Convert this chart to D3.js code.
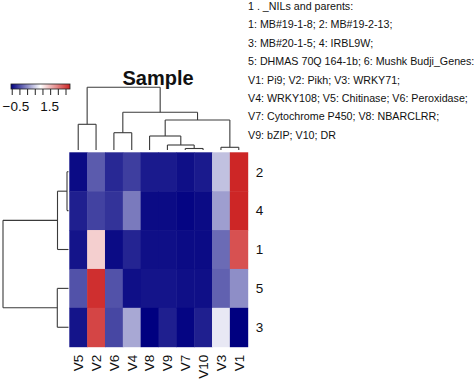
<!DOCTYPE html>
<html><head><meta charset="utf-8">
<script src="https://cdn.jsdelivr.net/npm/d3@7"></script>
<style>body{margin:0;background:#fff}svg{display:block}text{font-family:"Liberation Sans",Arial,sans-serif;fill:#111}</style>
</head><body><svg id="c" width="474" height="379"></svg>
<script>
// ---- data ----
const colLabels = ["V5","V2","V6","V4","V8","V9","V7","V10","V3","V1"];
const rowLabels = ["2","4","1","5","3"];
const values = [
  [-1.02,-0.42,-0.80,-0.64,-0.91,-0.91,-0.99,-0.91, 0.34, 2.70],
  [-0.87,-0.61,-0.72,-0.19,-1.02,-1.02,-1.06,-1.02, 0.08, 2.70],
  [-0.95, 1.22,-1.02,-0.83,-0.99,-0.99,-1.02,-1.02,-0.30, 2.32],
  [-0.49, 2.62,-0.49,-0.99,-0.95,-0.95,-0.99,-0.99,-0.38,-0.04],
  [-0.95, 2.43,-0.57, 0.15,-1.10,-0.87,-1.06,-0.87, 0.63,-1.10]
];
// hclust-style merges: negative = leaf index (1-based, display order), positive = earlier merge
const colMerge = [[-7,-8],[-9,-10],[-6,1],[-5,3],[-3,-4],[-1,-2],[4,2],[5,7],[6,8]];
const colHeights = [1.5,2.7,5,14,17.3,25.7,30,37.7,62.7];
const rowMerge = [[-1,-2],[-3,1],[-4,-5],[2,3]];
const rowHeights = [1.5,11,11.2,65.5];
const keyTicks = [-1,-0.5,0,0.5,1,1.5,2,2.5];
const keyLabels = [-0.5,1.5];
const title = "Sample";
const notes = [
  "1 . _NILs and parents:",
  "1: MB#19-1-8; 2: MB#19-2-13;",
  "3: MB#20-1-5; 4: IRBL9W;",
  "5: DHMAS 70Q 164-1b; 6: Mushk Budji_Genes:",
  "V1: Pi9; V2: Pikh; V3: WRKY71;",
  "V4: WRKY108; V5: Chitinase; V6: Peroxidase;",
  "V7: Cytochrome P450; V8: NBARCLRR;",
  "V9: bZIP; V10; DR"
];

// ---- layout ----
const svg = d3.select("#c");
const hm = {x0:69.3, x1:247.7, y0:152.3, y1:346.7};
const x = d3.scaleBand().domain(colLabels).range([hm.x0, hm.x1]);
const y = d3.scaleBand().domain(rowLabels).range([hm.y0, hm.y1]);
const vmin = -1.1, vmax = 2.7, vmid = (vmin+vmax)/2;
const color = d3.scaleLinear().domain([vmin, vmid, vmax]).range(["#000080","#ffffff","#CD2626"]).clamp(true);

// heatmap cells
rowLabels.forEach((r,i)=>{
  colLabels.forEach((c,j)=>{
    svg.append("rect").attr("x",x(c)).attr("y",y(r))
      .attr("width",x.bandwidth()+0.5).attr("height",y.bandwidth()+0.5)
      .attr("fill",color(values[i][j]));
  });
});

// row labels
svg.selectAll(".rl").data(rowLabels).join("text")
  .attr("x",hm.x1+8).attr("y",d=>y(d)+y.bandwidth()/2).attr("dy","0.36em")
  .attr("font-size",13.5).text(d=>d);
// column labels
svg.selectAll(".cl").data(colLabels).join("text")
  .attr("transform",d=>`translate(${x(d)+x.bandwidth()/2},${hm.y1+8}) rotate(-90)`)
  .attr("text-anchor","end").attr("dy","0.36em").attr("font-size",13.5).text(d=>d);

// dendrogram helper
function dendro(merge, heights, leafPos, hScale, horizontal){
  const pos = [], hts = [];
  const get = k => k<0 ? {p:leafPos(-k-1), h:0} : {p:pos[k-1], h:hts[k-1]};
  const segs = [];
  merge.forEach((m,i)=>{
    const a = get(m[0]), b = get(m[1]), h = heights[i];
    segs.push([a.p,a.h,a.p,h],[a.p,h,b.p,h],[b.p,b.h,b.p,h]);
    pos.push((a.p+b.p)/2); hts.push(h);
  });
  const g = svg.append("g").attr("stroke","#3a3a3a").attr("stroke-width",1.1).attr("fill","none");
  segs.forEach(s=>{
    if(!horizontal) g.append("line").attr("x1",s[0]).attr("y1",hScale(s[1])).attr("x2",s[2]).attr("y2",hScale(s[3]));
    else g.append("line").attr("y1",s[0]).attr("x1",hScale(s[1])).attr("y2",s[2]).attr("x2",hScale(s[3]));
  });
}
const colH = d3.scaleLinear().domain([0,62.7]).range([150,87.3]);
dendro(colMerge, colHeights, i=>x(colLabels[i])+x.bandwidth()/2, colH, false);
const rowH = d3.scaleLinear().domain([0,65.5]).range([68.5,3]);
dendro(rowMerge, rowHeights, i=>y(rowLabels[i])+y.bandwidth()/2, rowH, true);

// title
svg.append("text").attr("x",158).attr("y",85).attr("text-anchor","middle")
  .attr("font-size",20).attr("font-weight","bold").text(title);

// colour key
const kx = d3.scaleLinear().domain([-1.08,2.76]).range([11,70]);
const defs = svg.append("defs");
const grad = defs.append("linearGradient").attr("id","kg");
d3.range(0,1.0001,0.05).forEach(t=>{
  grad.append("stop").attr("offset",t).attr("stop-color",color(vmin+t*(vmax-vmin)));
});
svg.append("rect").attr("x",11).attr("y",84).attr("width",59).attr("height",5).attr("fill","url(#kg)")
  .attr("stroke","#222").attr("stroke-width",0.8);
svg.selectAll(".kt").data(keyTicks).join("line")
  .attr("x1",d=>kx(d)).attr("x2",d=>kx(d)).attr("y1",89).attr("y2",95)
  .attr("stroke","#222").attr("stroke-width",1);
svg.selectAll(".kl").data(keyLabels).join("text")
  .attr("x",d=>kx(d)).attr("dx",d=>d<0?-4:-1).attr("y",111).attr("text-anchor","middle").attr("font-size",13.5)
  .text(d=>d3.format(".1f")(d));

// notes
svg.selectAll(".nt").data(notes).join("text")
  .attr("x",248).attr("y",(d,i)=>10+18.4*i).attr("font-size",10.7).text(d=>d);
</script></body></html>
